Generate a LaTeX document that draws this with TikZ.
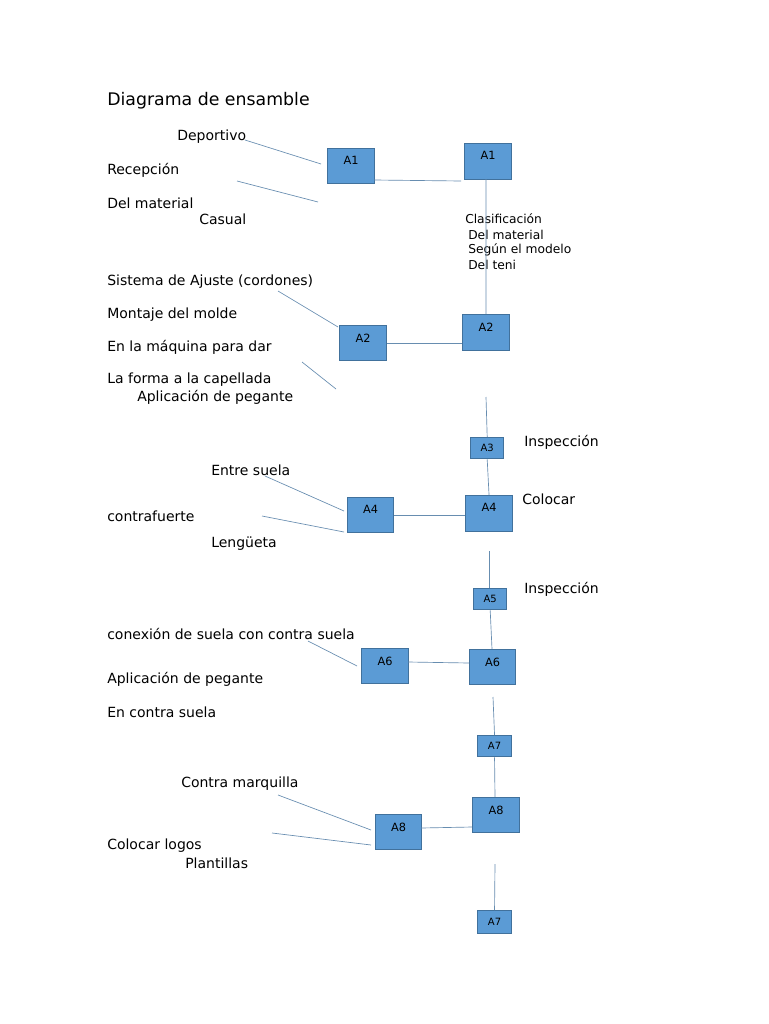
\documentclass[tikz,border=0pt]{standalone}
\usepackage{fontspec}
\setmainfont{DejaVu Sans}
\begin{document}
\begin{tikzpicture}[x=0.75pt,y=-0.75pt,
  bx/.style={draw=boxborder,fill=boxfill,line width=0.8pt,anchor=north west,inner sep=0pt},
  ln/.style={draw=boxborder!80,line width=0.5pt},
  tx/.style={anchor=west,inner sep=0pt,font=\fontsize{10.5}{12}\selectfont},
  sx/.style={anchor=west,inner sep=0pt,font=\fontsize{9.2}{11}\selectfont},
  lb/.style={font=\fontsize{8.5}{10}\selectfont}]
\definecolor{boxfill}{HTML}{5B9BD5}
\definecolor{boxborder}{HTML}{41719C}
\fill[white] (0,0) rectangle (768,1024);
\useasboundingbox (0,0) rectangle (768,1024);
\newcommand{\bxx}[6]{\node[bx,minimum width=#4*0.75pt,minimum height=#5*0.75pt] (#1) at (#2,#3) {}; \node[lb,anchor=north] at ([yshift=-3pt]#1.north) {#6};}
\bxx{a1l}{327}{148}{47}{35}{A1}
\bxx{a1r}{464}{143}{47}{36}{A1}
\bxx{a2l}{339}{325}{47}{35}{A2}
\bxx{a2r}{462}{314}{47}{36}{A2}
\node[bx,minimum width=25pt,minimum height=16pt] (a3) at (470,437) {}; \node[lb,font=\fontsize{7.5}{9}\selectfont] at (a3) {A3};
\bxx{a4l}{347}{497}{46}{35}{A4}
\bxx{a4r}{465}{495}{47}{36}{A4}
\node[bx,minimum width=25pt,minimum height=16pt] (a5) at (473,588) {}; \node[lb,font=\fontsize{7.5}{9}\selectfont] at (a5) {A5};
\bxx{a6l}{361}{648}{47}{35}{A6}
\bxx{a6r}{469}{649}{46}{35}{A6}
\node[bx,minimum width=25.5pt,minimum height=16pt] (a7) at (477,735) {}; \node[lb,font=\fontsize{7.5}{9}\selectfont] at (a7) {A7};
\bxx{a8r}{472}{797}{47}{35}{A8}
\bxx{a8l}{375}{814}{46}{35}{A8}
\node[bx,minimum width=25.5pt,minimum height=17pt] (a7b) at (477,910) {}; \node[lb,font=\fontsize{7.5}{9}\selectfont] at (a7b) {A7};

\node[anchor=west,inner sep=0pt,font=\fontsize{13}{15}\selectfont] (t) at (107,101) {Diagrama de ensamble};
\node[tx] (dep) at (177,137) {Deportivo};
\node[tx] at (107,170) {Recepción};
\node[tx] at (107,203) {Del material};
\node[tx] at (199,219) {Casual};
\node[sx] (cl) at (465,219) {Clasificación};
\node[sx] at (468,235) {Del material};
\node[sx] at (468,250) {Según el modelo};
\node[sx] at (468,265) {Del teni};
\node[tx] at (107,282) {Sistema de Ajuste (cordones)};
\node[tx] at (107,315) {Montaje del molde};
\node[tx] at (107,347) {En la máquina para dar};
\node[tx] at (107,380) {La forma a la capellada};
\node[tx] at (137,397) {Aplicación de pegante};
\node[tx] at (524,442) {Inspección};
\node[tx] at (211,470) {Entre suela};
\node[tx] at (522,499) {Colocar};
\node[tx] at (107,516) {contrafuerte};
\node[tx] at (211,544) {Lengüeta};
\node[tx] at (524,589) {Inspección};
\node[tx] at (107,634) {conexión de suela con contra suela};
\node[tx] at (107,679) {Aplicación de pegante};
\node[tx] at (107,712) {En contra suela};
\node[tx] at (181,784) {Contra marquilla};
\node[tx] at (107,846) {Colocar logos};
\node[tx] at (185,863) {Plantillas};

\coordinate (p1) at (245,140); \coordinate (p2) at (237,181); \coordinate (p3) at (318,202);
\draw[ln] (p1) -- (321,164);
\draw[ln] (p2) -- (p3);
\draw[ln] (374,180) -- (461,181);
\draw[ln] (486,179) -- (a2r.north);
\draw[ln] (278,291) -- (338,327);
\draw[ln] (302,362) -- (336,389);
\draw[ln] (a2l.east) -- (a2r.west |- a2l.east);
\draw[ln] (486,397) -- (a3.north);
\draw[ln] (a3.south) -- (a4r.north);
\draw[ln] (265,476) -- (344,511);
\draw[ln] (262,516) -- (344,532);
\draw[ln] (a4l.east) -- (a4r.west |- a4l.east);
\draw[ln] (489,551) -- (489,588);
\draw[ln] (a5.south) -- (492,649);
\draw[ln] (308,641) -- (357,666);
\draw[ln] (408,662) -- (469,663);
\draw[ln] (493,697) -- (a7.north);
\draw[ln] (a7.south) -- (495,797);
\draw[ln] (278,795) -- (371,830);
\draw[ln] (272,833) -- (371,845);
\draw[ln] (421,828) -- (472,827);
\draw[ln] (495,864) -- (a7b.north);
\end{tikzpicture}
\end{document}
